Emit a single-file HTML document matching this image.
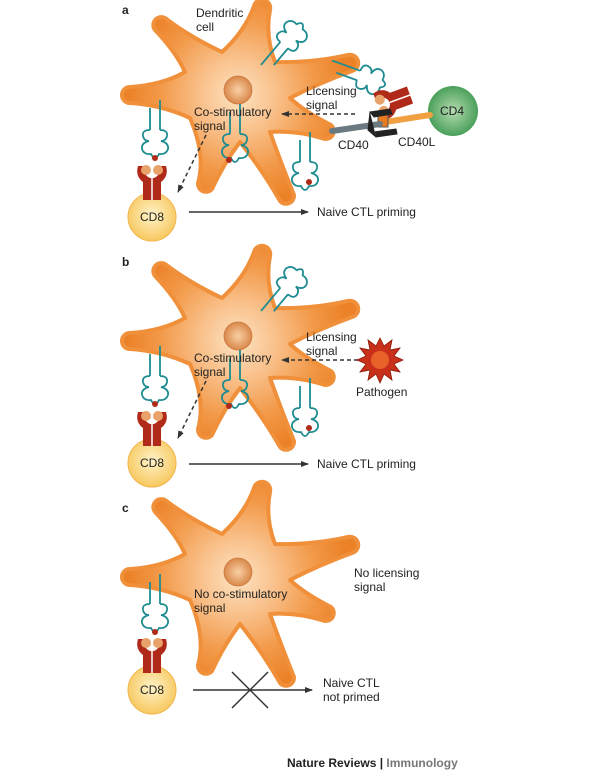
<!DOCTYPE html>
<html><head><meta charset="utf-8"><style>
html,body{margin:0;padding:0;background:#fff}
svg{display:block}
text{font-family:"Liberation Sans",sans-serif;font-size:12px;fill:#222}
</style></head><body>
<svg width="600" height="778" viewBox="0 0 600 778" xmlns="http://www.w3.org/2000/svg">
<defs>
<radialGradient id="cg" gradientUnits="userSpaceOnUse" cx="238" cy="95" r="110">
<stop offset="0" stop-color="#fde3c2"/><stop offset="0.35" stop-color="#f9c08a"/><stop offset="0.7" stop-color="#f29a4a"/><stop offset="1" stop-color="#ec8228"/>
</radialGradient>
<radialGradient id="ng" cx="0.5" cy="0.5" r="0.5">
<stop offset="0" stop-color="#f9d0a5"/><stop offset="1" stop-color="#d9884a"/>
</radialGradient>
<radialGradient id="yg" cx="0.5" cy="0.45" r="0.55">
<stop offset="0" stop-color="#fff3c8"/><stop offset="1" stop-color="#f7c860"/>
</radialGradient>
<radialGradient id="gg" cx="0.5" cy="0.5" r="0.55">
<stop offset="0" stop-color="#b6dbb0"/><stop offset="1" stop-color="#3f9a52"/>
</radialGradient>
<g id="cell">
<path d="M185,72 Q176,52 155,30 A8,8 0 0 1 165,18 Q190,37 222,52
Q245,31 254,6 A8,8 0 0 1 270,10 Q265,36 275,62
Q313,63 348,55 A8,8 0 0 1 352,71 Q319,83 290,98
Q305,112 331,125 A8,8 0 0 1 325,139 Q297,130 270,132
Q281,163 294,195 A8,8 0 0 1 280,201 Q263,171 240,142
Q224,163 212,189 A8,8 0 0 1 198,183 Q206,155 190,118
Q162,105 130,103 A8,8 0 0 1 130,87 Q162,85 185,72 Z" fill="url(#cg)" stroke="#f0903a" stroke-width="4" stroke-linejoin="round"/>
<circle cx="238" cy="90" r="14" fill="url(#ng)" stroke="#c97a40" stroke-width="0.8"/>
</g>
<g id="mhc" fill="none" stroke="#1f8c92" stroke-width="1.8">
<line x1="-5" y1="0" x2="-5" y2="22"/><line x1="5" y1="-8" x2="5" y2="22"/>
<path d="M-5,22 q-8,0 -7,6 q1,5 6,5 q-8,2 -7,8 q2,6 9,5 q2,4 4,4 q2,0 4,-4 q7,1 9,-5 q1,-6 -7,-8 q5,0 6,-5 q1,-6 -7,-6"/>
</g>
<g id="tcr">
<path d="M-9,0 L-9,-18 Q-17,-24 -14,-34 L-8,-34 Q-9,-25 -2,-22 L2,-22 Q9,-25 8,-34 L14,-34 Q17,-24 9,-18 L9,0 Z" fill="#b02a1a"/>
<circle cx="-6" cy="-30" r="5" fill="#e9a26a"/><circle cx="6" cy="-30" r="5" fill="#e9a26a"/>
<line x1="0" y1="-22" x2="0" y2="0" stroke="#fff" stroke-width="1.5"/>
</g>
<marker id="ah" markerWidth="8" markerHeight="8" refX="7" refY="4" orient="auto" markerUnits="userSpaceOnUse"><path d="M0,1 L8,4 L0,7 Z" fill="#333"/></marker>
</defs>

<!-- Panel a -->
<text x="122" y="14" style="font-weight:bold;font-size:12px">a</text>
<use href="#cell"/>
<text x="196" y="17">Dendritic</text><text x="196" y="31">cell</text>
<use href="#mhc" transform="translate(270,62) rotate(-140)"/>
<use href="#mhc" transform="translate(338,68) rotate(-70)"/>
<use href="#mhc" transform="translate(235,112)"/>
<use href="#mhc" transform="translate(305,140)"/>
<use href="#mhc" transform="translate(155,108)"/>
<circle cx="229" cy="160" r="3" fill="#b02a1a"/><circle cx="309" cy="182" r="3" fill="#b02a1a"/>
<circle cx="155" cy="158" r="3" fill="#b02a1a"/>
<use href="#tcr" transform="translate(410,95) rotate(-110)"/>
<text x="306" y="95">Licensing</text><text x="306" y="109">signal</text>
<text x="194" y="116">Co-stimulatory</text><text x="194" y="130">signal</text>
<line x1="355" y1="114" x2="282" y2="114" stroke="#333" stroke-width="1.5" stroke-dasharray="4,3" marker-end="url(#ah)"/>
<line x1="206" y1="135" x2="178" y2="192" stroke="#333" stroke-width="1.5" stroke-dasharray="4,3" marker-end="url(#ah)"/>
<circle cx="453" cy="111" r="25" fill="url(#gg)"/>
<text x="440" y="115">CD4</text>
<line x1="430" y1="115" x2="385" y2="122" stroke="#f0a040" stroke-width="6" stroke-linecap="round"/>
<rect x="378" y="115" width="10" height="12" fill="#e87a20" stroke="#555"/>
<line x1="380" y1="124" x2="332" y2="131" stroke="#6b7a80" stroke-width="6" stroke-linecap="round"/>
<path d="M370,112 L390,109 L392,114 L374,117 Z M374,132 L396,129 L397,134 L376,137 Z M370,112 L368,130 L376,137" fill="#222" stroke="#222"/>
<text x="338" y="149">CD40</text><text x="398" y="146">CD40L</text>
<circle cx="152" cy="217" r="24" fill="url(#yg)" stroke="#f2b54a"/>
<use href="#tcr" transform="translate(152,200)"/>
<text x="140" y="221">CD8</text>
<line x1="189" y1="212" x2="308" y2="212" stroke="#333" stroke-width="1.5" marker-end="url(#ah)"/>
<text x="317" y="216">Naive CTL priming</text>

<!-- Panel b -->
<text x="122" y="266" style="font-weight:bold;font-size:12px">b</text>
<g transform="translate(0,246)">
<use href="#cell"/>
<use href="#mhc" transform="translate(270,62) rotate(-140)"/>
<use href="#mhc" transform="translate(235,112)"/>
<use href="#mhc" transform="translate(305,140)"/>
<use href="#mhc" transform="translate(155,108)"/>
<circle cx="229" cy="160" r="3" fill="#b02a1a"/><circle cx="309" cy="182" r="3" fill="#b02a1a"/>
<circle cx="155" cy="158" r="3" fill="#b02a1a"/>
<text x="306" y="95">Licensing</text><text x="306" y="109">signal</text>
<text x="194" y="116">Co-stimulatory</text><text x="194" y="130">signal</text>
<line x1="358" y1="114" x2="282" y2="114" stroke="#333" stroke-width="1.5" stroke-dasharray="4,3" marker-end="url(#ah)"/>
<line x1="206" y1="135" x2="178" y2="192" stroke="#333" stroke-width="1.5" stroke-dasharray="4,3" marker-end="url(#ah)"/>
<polygon points="380,92 384,100 392,94 390,104 400,102 394,110 403,114 394,118 400,126 390,124 392,134 384,128 380,137 376,128 368,134 370,124 360,126 366,118 357,114 366,110 360,102 370,104 368,94 376,100" fill="#c8301a" stroke="#8a1a0a" stroke-width="0.8"/>
<circle cx="380" cy="114" r="9" fill="#e8622a"/>
<text x="356" y="150">Pathogen</text>
<circle cx="152" cy="217" r="24" fill="url(#yg)" stroke="#f2b54a"/>
<use href="#tcr" transform="translate(152,200)"/>
<text x="140" y="221">CD8</text>
<line x1="189" y1="218" x2="308" y2="218" stroke="#333" stroke-width="1.5" marker-end="url(#ah)"/>
<text x="317" y="222">Naive CTL priming</text>
</g>

<!-- Panel c -->
<text x="122" y="512" style="font-weight:bold;font-size:12px">c</text>
<g transform="translate(0,482)">
<use href="#cell"/>
<use href="#mhc" transform="translate(155,100)"/>
<circle cx="155" cy="150" r="3" fill="#b02a1a"/>
<text x="194" y="116">No co-stimulatory</text><text x="194" y="130">signal</text>
<text x="354" y="95">No licensing</text><text x="354" y="109">signal</text>
</g>
<circle cx="152" cy="690" r="24" fill="url(#yg)" stroke="#f2b54a"/>
<use href="#tcr" transform="translate(152,673)"/>
<text x="140" y="694">CD8</text>
<line x1="193" y1="690" x2="312" y2="690" stroke="#333" stroke-width="1.5" marker-end="url(#ah)"/>
<line x1="232" y1="672" x2="268" y2="708" stroke="#333" stroke-width="1.5"/>
<line x1="268" y1="672" x2="232" y2="708" stroke="#333" stroke-width="1.5"/>
<text x="323" y="687">Naive CTL</text><text x="323" y="701">not primed</text>

<text x="287" y="767" style="font-weight:bold;font-size:12px">Nature Reviews | <tspan style="fill:#777">Immunology</tspan></text>
</svg>
</body></html>
